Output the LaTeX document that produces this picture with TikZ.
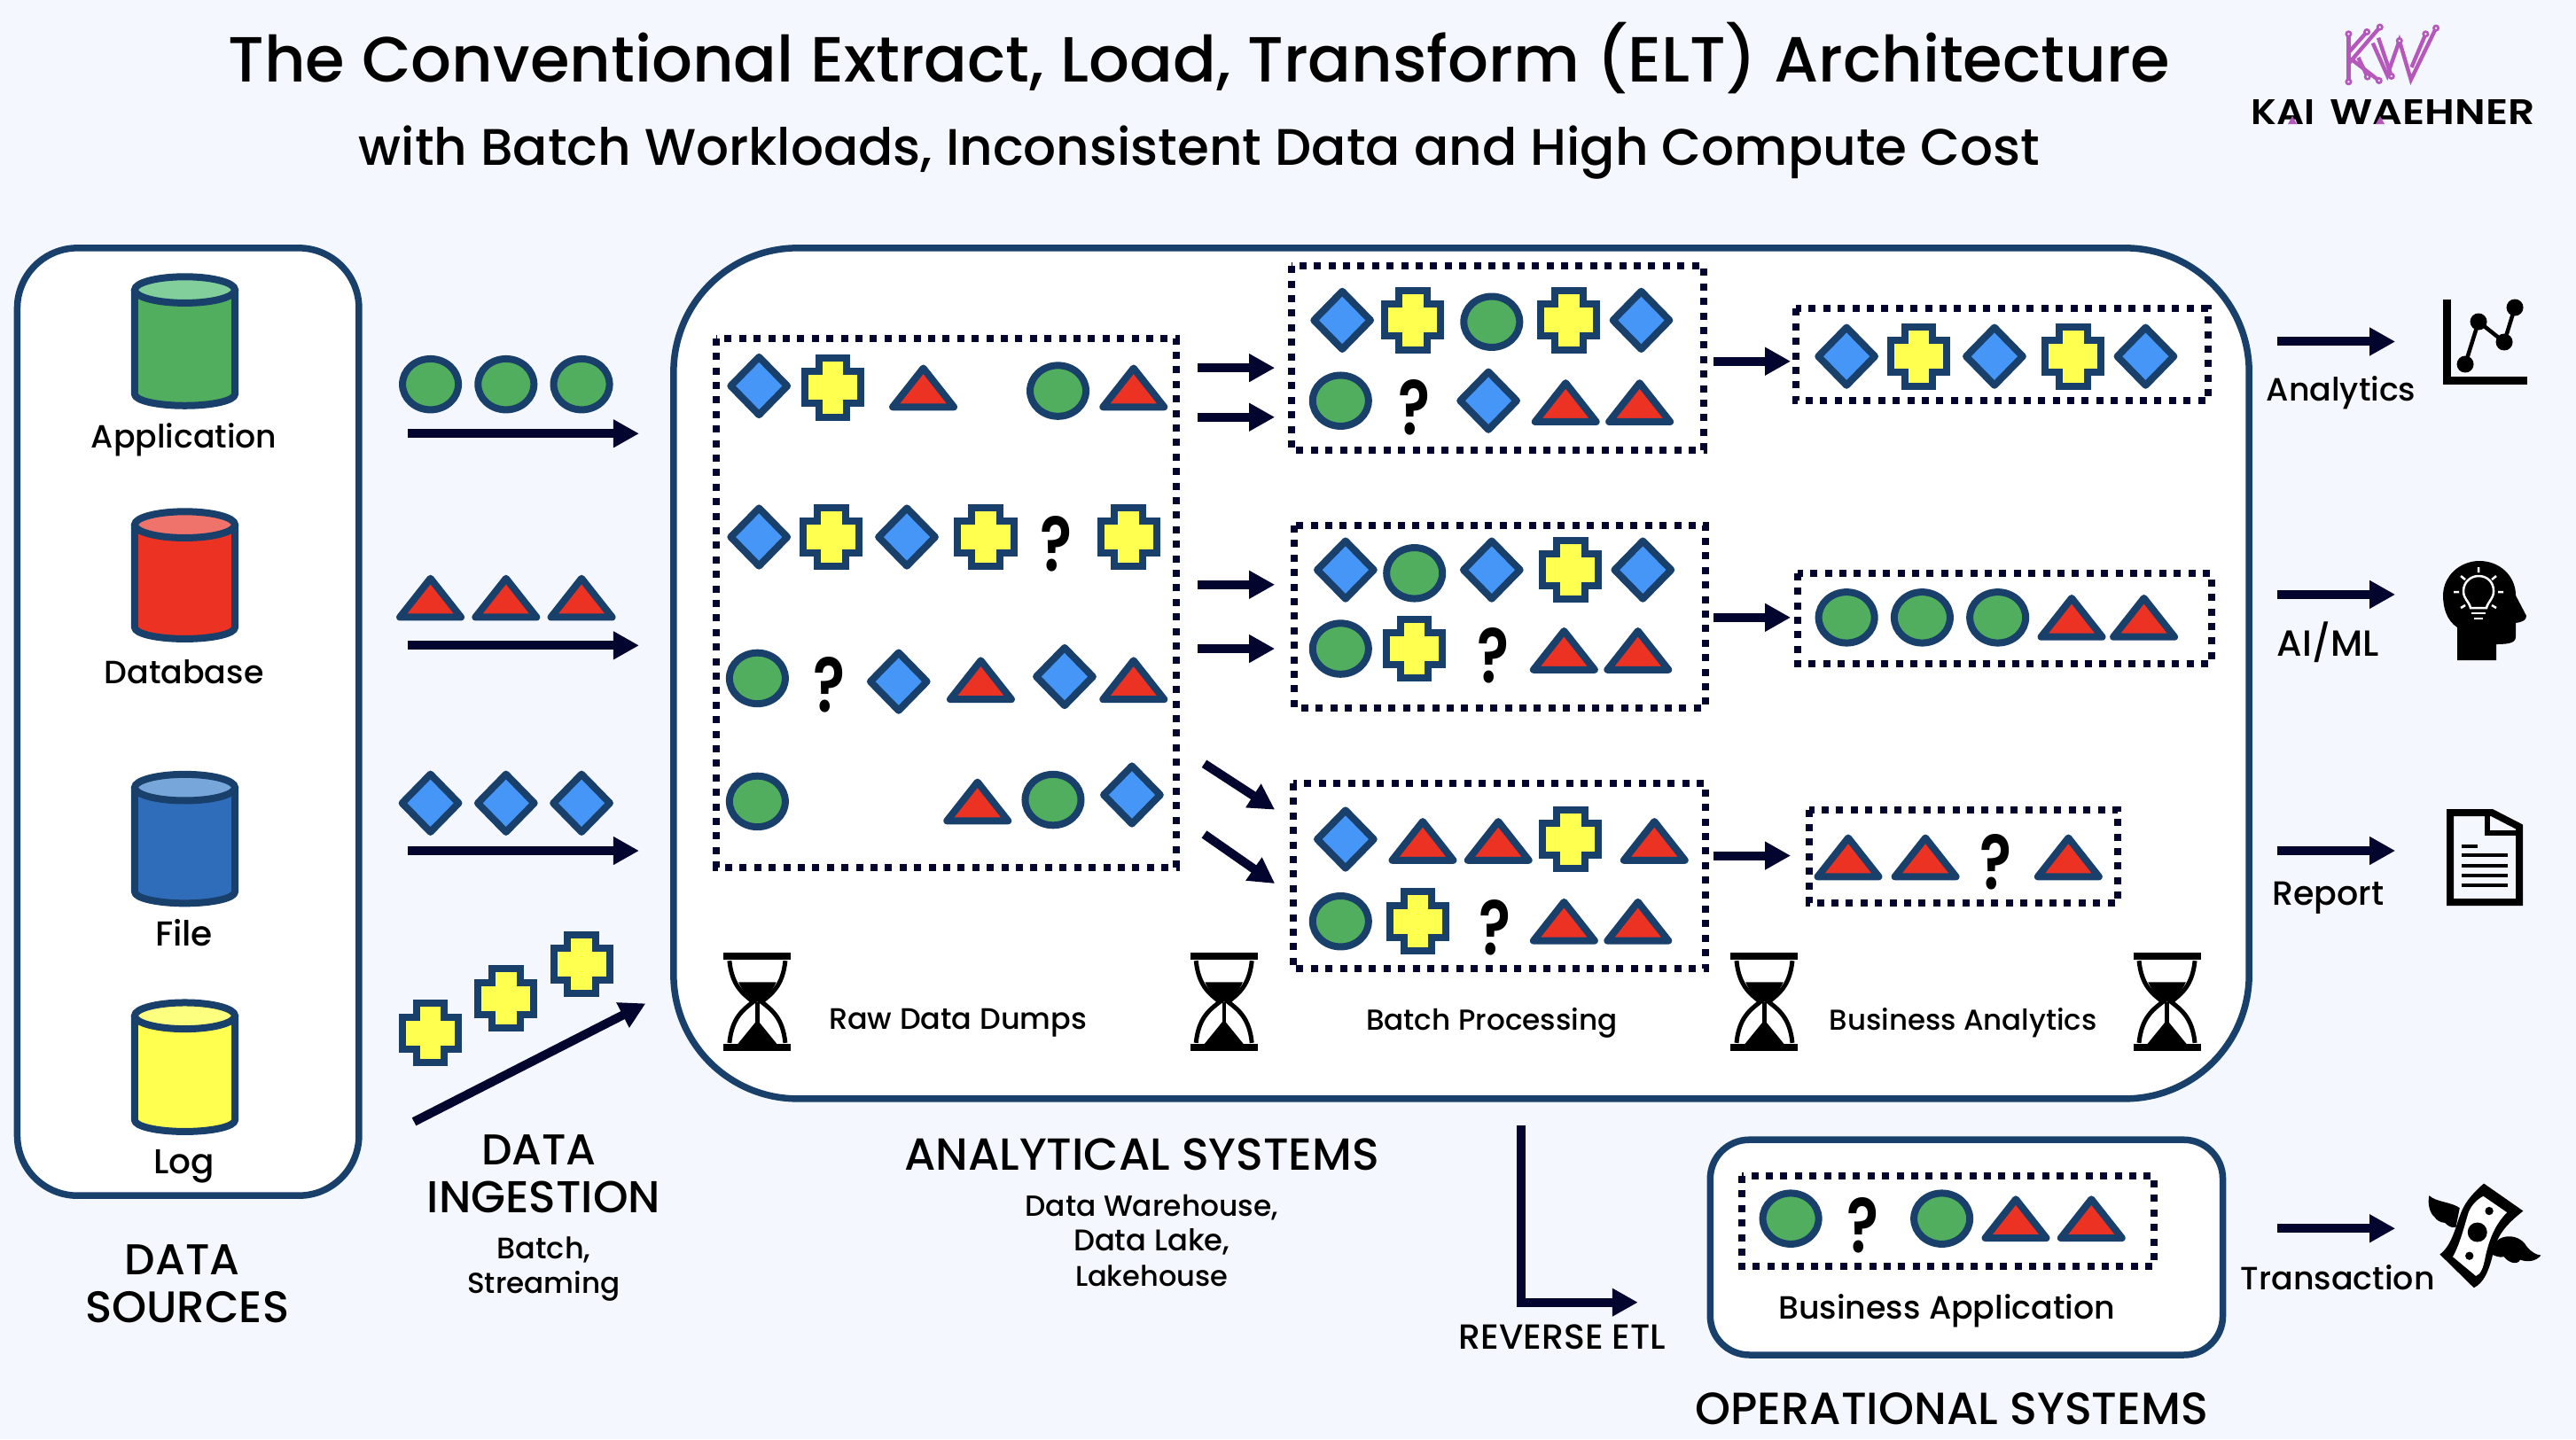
\documentclass[tikz,border=0pt]{standalone}
\usepackage{fontspec}
\usepackage{graphicx}
\setmainfont{Poppins Medium}
\newfontfamily\heavyf{Poppins SemiBold}
\usetikzlibrary{arrows.meta}
\definecolor{bgc}{HTML}{F4F7FE}
\definecolor{edgec}{HTML}{193F6B}
\definecolor{arrc}{HTML}{03052E}
\definecolor{gre}{HTML}{50AE5E}
\definecolor{gretop}{HTML}{82CF9B}
\definecolor{redd}{HTML}{EC3323}
\definecolor{redtop}{HTML}{F0736B}
\definecolor{blu}{HTML}{4596F7}
\definecolor{blub}{HTML}{2F6DBB}
\definecolor{blutop}{HTML}{77A7DA}
\definecolor{yel}{HTML}{FFFF4F}
\definecolor{yeltop}{HTML}{FDFF7F}
\definecolor{purp}{HTML}{B557BB}
\tikzset{
 panel/.style={draw=edgec,line width=7.5pt,fill=white},
 shp/.style={draw=edgec,line width=8pt},
 dotbox/.style={draw=arrc,line width=8pt,dash pattern=on 8pt off 8.4pt},
 flow/.style={draw=arrc,line width=10pt,-{Triangle[length=29pt,width=30pt]}},
 txt/.style={inner sep=0pt,text=black},
}
\newcommand\shC[2]{\draw[shp,fill=gre] (#1,#2) ellipse [x radius=17,y radius=15.5];}
\newcommand\shD[2]{\begin{scope}[shift={(#1,#2)}]\draw[shp,fill=blu,line join=round] (-17.2,0)--(0,-17.6)--(17.2,0)--(0,17.6)--cycle;\end{scope}}
\newcommand\shT[2]{\begin{scope}[shift={(#1,#2)}]\draw[shp,fill=redd,line join=round] (-18.6,11.8)--(0,-11.8)--(18.6,11.8)--cycle;\end{scope}}
\newcommand\shX[2]{\begin{scope}[shift={(#1,#2)}]\draw[shp,fill=yel,line join=miter] (-8.5,-18)--(8.5,-18)--(8.5,-9.7)--(17,-9.7)--(17,9.7)--(8.5,9.7)--(8.5,18)--(-8.5,18)--(-8.5,9.7)--(-17,9.7)--(-17,-9.7)--(-8.5,-9.7)--cycle;\end{scope}}
\newcommand\shQ[2]{\node[txt] at (#1,#2) {\resizebox{36pt}{62pt}{\heavyf ?}};}
\newcommand\cyl[6]{% name cx top bottom body top
 \begin{scope}
 \draw[shp,fill=#5,line join=round] (#2-30.5,#3+9.5)--(#2-30.5,#4-7) arc[start angle=180,end angle=0,x radius=30.5,y radius=7]--(#2+30.5,#3+9.5)--cycle;
 \draw[shp,fill=#6] (#2,#3+9.5) ellipse[x radius=30.5,y radius=8];
 \coordinate (#1) at (#2,#3);
 \end{scope}}
\newcommand\lab[5][]{\pgfmathsetlengthmacro\tmpw{#5*1.8533}\node[txt,#1] at (#3,#4) {\resizebox{\tmpw}{!}{\fontsize{40}{48}\selectfont #2}};}
\newcommand\arr[5]{\coordinate (#1a) at (#2,#3);\coordinate (#1b) at (#4,#5);\draw[flow] (#1a)--(#1b);}
\newcommand\hourg[2]{\begin{scope}[shift={(#1,#2)}]
 \fill (-20.5,-30) rectangle (20.5,-25.5);
 \fill (-20.5,25.5) rectangle (20.5,30);
 \draw[line width=5pt] (-17,-25) .. controls (-15.5,-10) and (-9,-5) .. (-2.5,0) .. controls (-9,5) and (-15.5,10) .. (-17,25);
 \draw[line width=5pt] (17,-25) .. controls (15.5,-10) and (9,-5) .. (2.5,0) .. controls (9,5) and (15.5,10) .. (17,25);
 \fill (-11.5,-12)--(11.5,-12) .. controls (9,-6) and (5,-3) .. (2,0)--(-2,0) .. controls (-5,-3) and (-9,-6) .. cycle;
 \fill (-1.2,0) rectangle (1.2,14);
 \fill (0,11)--(13,27)--(-13,27)--cycle;
 \end{scope}}
\begin{document}
\begin{tikzpicture}[x=1.8533pt,y=-1.8533pt]
\path[use as bounding box,fill=bgc] (0,0) rectangle (1568,876.3);
% titles
\lab{The Conventional Extract, Load, Transform (ELT) Architecture}{730}{35.5}{1182}
\lab{with Batch Workloads, Inconsistent Data and High Compute Cost}{730}{93}{1023}
% panels
\draw[panel,rounded corners=68pt] (10.5,151) rectangle (218.5,728);
\draw[panel,rounded corners=140pt] (410,151) rectangle (1369,669);
\draw[panel,rounded corners=44pt] (1041,694) rectangle (1353,825);
% cylinders
\cyl{cA}{112.5}{167}{247}{gre}{gretop}
\cyl{cB}{112.5}{310}{389}{redd}{redtop}
\cyl{cC}{112.5}{470}{550}{blub}{blutop}
\cyl{cD}{112.5}{609}{689}{yel}{yeltop}
\lab{Application}{112}{268}{113}
\lab{Database}{112}{409}{97}
\lab{File}{112}{568}{35}
\lab{Log}{112}{710}{37}
\lab{DATA}{111}{767}{70}
\lab{SOURCES}{114}{796}{124}
% ingestion
\shC{262}{234}\shC{308}{234}\shC{354}{234}
\arr{i1}{248}{264}{389}{264}
\shT{262}{364}\shT{308}{364}\shT{354}{364}
\arr{i2}{248}{393}{389}{393}
\shD{262}{489}\shD{308}{489}\shD{354}{489}
\arr{i3}{248}{518}{389}{518}
\shX{262}{629}\shX{308}{608}\shX{354}{587}
\arr{i4}{252}{683}{393}{611}
\lab{DATA}{328}{700}{70}
\lab{INGESTION}{331}{729}{142}
\lab{Batch,}{331}{761}{57}
\lab{Streaming}{331}{783}{93}
% raw
\draw[dotbox] (436,206) rectangle (716,528);
\shD{462}{235}\shX{507}{236}\shT{562}{236}\shC{644}{238}\shT{690}{236}
\shD{462}{327}\shX{506}{327}\shD{552}{327}\shX{600}{327}\shQ{643}{331}\shX{687}{327}
\shC{461}{413}\shQ{505}{417}\shD{547}{415}\shT{597}{414}\shD{648}{412}\shT{690}{414}
\shC{461}{488}\shT{595}{488}\shC{641}{487}\shD{689}{484}
% raw -> batch
\arr{r1}{729}{224}{776}{224}
\arr{r2}{729}{254}{776}{254}
\arr{r3}{729}{356}{776}{356}
\arr{r4}{729}{395}{776}{395}
\arr{r5}{733}{465}{776}{493}
\arr{r6}{733}{508}{776}{538}
% batch
\draw[dotbox] (786,162) rectangle (1037,274);
\shD{817}{195}\shX{860}{195}\shC{908}{196}\shX{955}{195}\shD{999}{195}
\shC{816}{244}\shQ{861}{248}\shD{906}{244}\shT{953}{245}\shT{998}{245}
\draw[dotbox] (788,320) rectangle (1038,431);
\shD{819}{347}\shC{861}{349}\shD{908}{347}\shX{956}{347}\shD{1000}{347}
\shC{816}{395}\shX{861}{395}\shQ{909}{399}\shT{952}{396}\shT{997}{396}
\draw[dotbox] (787,477) rectangle (1038,590);
\shD{819}{511}\shT{866}{512}\shT{912}{512}\shX{956}{511}\shT{1007}{512}
\shC{816}{561}\shX{863}{561}\shQ{910}{565}\shT{952}{561}\shT{997}{561}
% batch -> BA
\arr{b1}{1043}{220}{1090}{220}
\arr{b2}{1043}{376}{1090}{376}
\arr{b3}{1043}{521}{1090}{521}
% BA
\draw[dotbox] (1093,188) rectangle (1344,244);
\shD{1124}{217}\shX{1168}{217}\shD{1214}{217}\shX{1262}{217}\shD{1306}{217}
\draw[dotbox] (1094,349) rectangle (1346,404);
\shC{1124}{376}\shC{1170}{376}\shC{1216}{376}\shT{1261}{376}\shT{1305}{376}
\draw[dotbox] (1101,493) rectangle (1289,550);
\shT{1125}{522}\shT{1172}{522}\shQ{1215}{525}\shT{1259}{522}
% hourglasses & labels
\hourg{461}{610}\hourg{745}{610}\hourg{1074}{610}\hourg{1319}{610}
\lab{Raw Data Dumps}{583}{623}{157}
\lab{Batch Processing}{908}{623}{153}
\lab{Business Analytics}{1195}{623}{163}
\lab{ANALYTICAL SYSTEMS}{695}{703}{289}
\lab{Data Warehouse,}{701}{735}{154}
\lab{Data Lake,}{701}{756}{95}
\lab{Lakehouse}{701}{777}{93}
% reverse ETL
\coordinate (rv1) at (926,685);\coordinate (rv2) at (926,793);\coordinate (rv3) at (997,793);
\draw[flow,line join=miter] (rv1)--(rv2)--(rv3);
\lab{REVERSE ETL}{951}{814}{126}
% op
\draw[dotbox] (1060,716) rectangle (1311,771);
\shC{1090}{742}\shQ{1134}{746}\shC{1182}{742}\shT{1227}{742}\shT{1273}{742}
\lab{Business Application}{1185}{798}{205}
\lab{OPERATIONAL SYSTEMS}{1188}{858}{312}
% right arrows
\arr{o1}{1386}{208}{1458}{208}
\arr{o2}{1386}{362}{1458}{362}
\arr{o3}{1386}{518}{1458}{518}
\arr{o4}{1386}{748}{1458}{748}
\lab{Analytics}{1425}{239}{91}
\lab{AI/ML}{1417}{391}{62}
\lab{Report}{1417}{547}{68}
\lab{Transaction}{1423}{778}{118}
% icons in reference pixels
\begin{scope}[x=1pt,y=-1pt]
 % chart
 \fill (2756,338) rectangle (2765,434);
 \fill (2756,425) rectangle (2851,434);
 \draw[line width=4.5pt] (2781,411)--(2796,363)--(2825,386)--(2837,347);
 \fill (2781,411) circle[radius=9.5];
 \fill (2796,363) circle[radius=9.5];
 \fill (2825,386) circle[radius=9.5];
 \fill (2837,347) circle[radius=9.5];
 % head
 \fill (2772,745)--(2772,708) .. controls (2760,700) and (2756,686) .. (2756,672) .. controls (2756,650) and (2775,633) .. (2797,633) .. controls (2820,633) and (2838,650) .. (2838,672)--(2850,695) .. controls (2850,700) and (2845,702) .. (2838,703)--(2838,718) .. controls (2838,725) and (2832,727) .. (2816,727)--(2816,745)--cycle;
 \draw[white,line width=2.5pt] (2787,686) .. controls (2785,678) and (2779,676) .. (2779,667) .. controls (2779,657) and (2787,650) .. (2796,650) .. controls (2806,650) and (2813,657) .. (2813,667) .. controls (2813,676) and (2807,678) .. (2805,686)--cycle;
 \draw[white,line width=2.5pt] (2788,692)--(2804,692) (2791,698)--(2801,698);
 \draw[white,line width=2.5pt] (2796,640)--(2796,646) (2768,668)--(2774,668) (2818,668)--(2824,668) (2776,650)--(2781,654) (2816,650)--(2811,654) (2776,686)--(2781,683) (2816,686)--(2811,683);
 % document
 \draw[line width=8pt,line join=miter] (2764,917)--(2811,917)--(2842,933)--(2842,1018)--(2764,1018)--cycle;
 \draw[line width=6pt] (2806,917)--(2806,940)--(2842,940);
 \fill (2777,953) rectangle (2795,957);
 \fill (2777,963) rectangle (2829,967);
 \fill (2777,975) rectangle (2829,979);
 \fill (2777,986) rectangle (2829,990);
 \fill (2777,997) rectangle (2829,1001);
 % money (coordinates of a 3x crop at 2730,1325)
 \begin{scope}[x=0.3333pt,y=-0.3333pt,shift={(8190,3975)}]
  \fill (32,73) .. controls (55,95) and (110,95) .. (135,115) -- (122,180) .. controls (105,185) and (90,170) .. (85,165) .. controls (70,165) and (55,155) .. (50,145) .. controls (35,135) and (25,100) .. (32,73)--cycle;
  \fill (262,225) .. controls (285,205) and (330,205) .. (355,235) .. controls (370,260) and (395,275) .. (410,275) .. controls (395,295) and (365,300) .. (340,290) .. controls (330,310) and (300,300) .. (285,280) .. controls (270,285) and (250,275) .. (240,270)--cycle;
  \fill (217,32)--(350,125) .. controls (300,165) and (265,200) .. (250,260) .. controls (235,330) and (215,370) .. (183,385)--(68,272) .. controls (110,240) and (120,180) .. (140,130) .. controls (155,90) and (190,55) .. (217,32)--cycle;
  \fill[white] (215,75)--(295,130) .. controls (255,170) and (235,220) .. (222,280) .. controls (215,320) and (205,340) .. (190,345)--(112,280) .. controls (135,240) and (150,180) .. (165,130) .. controls (175,105) and (195,85) .. (215,75)--cycle;
  \fill (195,197) circle[radius=33];
  \fill (235,125) circle[radius=14];
  \fill (168,277) circle[radius=14];
 \end{scope}
 % logo (coordinates of a 3x crop at 2630,20)
 \begin{scope}[x=0.3333pt,y=-0.3333pt,shift={(7890,60)},purp,line width=4.4pt]
  \draw (59,55)--(59,217);
  \draw (59,118)--(121,48);
  \draw (62,152)--(165,32);
  \draw (68,140)--(162,213);
  \draw (92,135)--(123,200);
  \draw[line join=miter] (141,86)--(190,195)--(231,78)--(270,210)--(355,35);
  \draw (160,68)--(204,198);
  \draw (272,168)--(320,55);
  \foreach \a/\b in {59/55,59/217,121/48,165/32,123/200,162/213,204/198,231/78,320/55,355/35}
    {\draw[line width=2.6pt,fill=bgc] (\a,\b) circle[radius=8];}
 \end{scope}
\end{scope}
\node[txt] (kai) at (1389.5,68) {\resizebox{72pt}{28pt}{\fontsize{40}{48}\selectfont\heavyf KAI}};
\node[txt] (wae) at (1480.5,68) {\resizebox{231pt}{28pt}{\fontsize{40}{48}\selectfont\heavyf WAEHNER}};
\begin{scope}[x=1pt,y=-1pt]
 \fill[purp] (2581,140)--(2586,131)--(2591,140)--cycle;
 \fill[purp] (2680,140)--(2685,131)--(2690,140)--cycle;
\end{scope}
\end{tikzpicture}
\end{document}
